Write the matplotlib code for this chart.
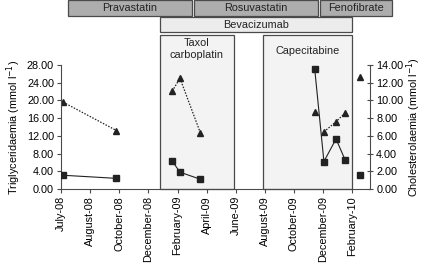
import numpy as np
import matplotlib
matplotlib.use("Agg")
import matplotlib.pyplot as plt
import matplotlib.dates as mdates
import matplotlib.transforms as mtransforms

plt.rcParams['font.family'] = ['Liberation Sans', 'DejaVu Sans']

start = np.datetime64('2008-07-01')

# day offsets from start
trig_groups = [
    ([4, 114], [3.1, 2.4]),
    ([229, 245, 287], [6.3, 3.8, 2.2]),
    ([523, 542, 567, 586], [27.1, 6.2, 11.3, 6.5]),
    ([617], [3.2]),
]
chol_groups = [
    ([4, 114], [9.8, 6.6]),
    ([229, 245, 287], [11.05, 12.5, 6.35]),
    ([523], [8.65]),
    ([542, 567, 586], [6.45, 7.6, 8.6]),
    ([617], [12.6]),
]

# therapy periods (day offsets)
chemo = [("Taxol\ncarboplatin", 203, 356), ("Capecitabine", 416, 600)]
bevacizumab = ("Bevacizumab", 203, 600)
lipid_drugs = [("Pravastatin", 13, 269), ("Rosuvastatin", 273, 530), ("Fenofibrate", 534, 683)]

x_end = 637
tick_step = 60
fs = 7.8


def d(days):
    return mdates.date2num(start + np.array(days, dtype='timedelta64[D]'))


fig = plt.figure(figsize=(4.25, 2.63), dpi=100)
ax = fig.add_axes([0.1435, 0.2814, 0.727, 0.4715])
ax2 = ax.twinx()

edge = '#4a4a4a'
trans = mtransforms.blended_transform_factory(ax2.transData, ax2.transAxes)
for name, a, b in chemo:
    ax2.add_patch(plt.Rectangle((d(a), 0), d(b) - d(a), 1.242, transform=trans,
                                facecolor='#f3f3f3', edgecolor=edge, linewidth=0.9,
                                clip_on=False, zorder=0))
    ax2.text((d(a) + d(b)) / 2, 1.125 if '\n' in name else 1.11, name,
             transform=trans, ha='center', va='center', fontsize=fs,
             color='#222222', linespacing=1.25, zorder=3)

name, a, b = bevacizumab
ax2.add_patch(plt.Rectangle((d(a), 1.266), d(b) - d(a), 0.121, transform=trans,
                            facecolor='#ececec', edgecolor=edge, linewidth=0.9,
                            clip_on=False))
ax2.text((d(a) + d(b)) / 2, 1.326, name, transform=trans, ha='center',
         va='center', fontsize=fs, color='#222222')
for name, a, b in lipid_drugs:
    ax2.add_patch(plt.Rectangle((d(a), 1.395), d(b) - d(a), 0.13, transform=trans,
                                facecolor='#adadad', edgecolor=edge, linewidth=0.9,
                                clip_on=False))
    ax2.text((d(a) + d(b)) / 2, 1.46, name, transform=trans, ha='center',
             va='center', fontsize=fs, color='#222222')

for xs, ys in trig_groups:
    ax.plot(d(xs), ys, color='#222222', linewidth=0.8, marker='s',
            markersize=4, zorder=4)
for xs, ys in chol_groups:
    ax2.plot(d(xs), ys, color='#222222', linewidth=0.9, linestyle=(0, (1.2, 1.2)),
             marker='^', markersize=5, zorder=4)

ax.set_xlim(d(0) - 0.5, d(x_end))
ax.set_ylim(0, 28)
ax2.set_ylim(0, 14)
ax.set_yticks(np.arange(0, 29, 4))
ax.set_yticklabels(['%.2f' % v for v in np.arange(0, 29, 4)])
ax2.set_yticks(np.arange(0, 15, 2))
ax2.set_yticklabels(['%.2f' % v for v in np.arange(0, 15, 2)])
ax.set_xticks(d(np.arange(0, x_end, tick_step)))
ax.xaxis.set_major_formatter(mdates.DateFormatter('%B-%y'))

for a_ in (ax, ax2):
    a_.spines['top'].set_visible(False)
    a_.spines['left'].set_color(edge)
    a_.spines['right'].set_color(edge)
    a_.spines['bottom'].set_color(edge)
ax.spines['right'].set_visible(False)
ax2.spines['left'].set_visible(False)
ax2.spines['bottom'].set_visible(False)
ax.spines['left'].set_bounds(0, 28)
ax2.spines['right'].set_bounds(0, 14)
ax.set_zorder(ax2.get_zorder() + 1)
ax.patch.set_visible(False)

ax.tick_params(axis='y', labelsize=fs, length=3, color=edge, pad=2)
ax.tick_params(axis='x', labelsize=fs, length=3, color=edge, rotation=90, pad=2)
ax2.tick_params(axis='y', labelsize=fs, length=5, direction='inout', color=edge, pad=2)

ax.set_ylabel('Triglyceridaemia (mmol l$^{-1}$)', fontsize=fs, labelpad=3)
ax2.set_ylabel('Cholesterolaemia (mmol l$^{-1}$)', fontsize=fs, rotation=90, labelpad=1)

fig.savefig('out.png', dpi=100)
